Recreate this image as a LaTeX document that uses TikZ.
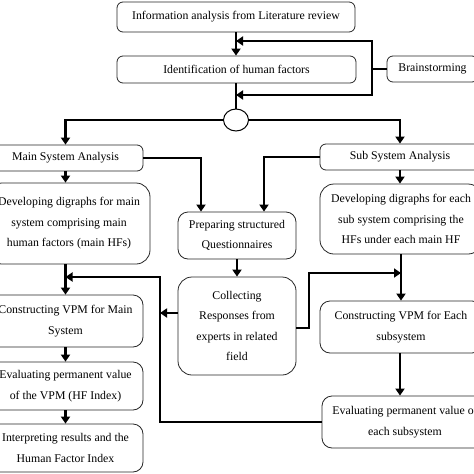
\documentclass[tikz,border=0pt]{standalone}
\usepackage{fontspec}
\setmainfont{Liberation Serif}
\usetikzlibrary{arrows.meta,shapes.geometric}
\begin{document}
\begin{tikzpicture}[x=1pt,y=-1pt,
  box/.style={draw=black!85,line width=0.8pt,rounded corners=6pt,align=center,inner sep=0pt,
    font=\fontsize{11.8}{20.5}\selectfont},
  bigbox/.style={box,rounded corners=14pt},
  conn/.style={line width=2.6pt},
  arr/.style={conn,-{Triangle[length=7pt,width=9pt]}}]
\useasboundingbox (0,0) rectangle (474,474);
\clip (0,0) rectangle (474,474);
\node[box,minimum width=238,minimum height=30] (top) at (236,17) {Information analysis from Literature review};
\node[box,minimum width=239,minimum height=27] (ident) at (236.5,69.5) {Identification of human factors};
\node[box,minimum width=91,minimum height=26] (brain) at (432.5,69) {Brainstorming};
\node[draw=black,line width=1pt,ellipse,minimum width=25,minimum height=22,inner sep=0pt] (circ) at (236,120) {};
\node[box,minimum width=155,minimum height=26] (main) at (65.5,158) {Main System Analysis};
\node[box,minimum width=160,minimum height=26] (sub) at (400,157) {Sub System Analysis};
\node[bigbox,minimum width=162,minimum height=81] (devmain) at (69,223.5) {Developing digraphs for main\\system comprising main\\human factors (main HFs)};
\node[bigbox,minimum width=162,minimum height=70] (deveach) at (401,219) {Developing digraphs for each\\sub system comprising the\\HFs under each main HF};
\node[box,rounded corners=10pt,minimum width=118,minimum height=47] (prep) at (237,235.5) {Preparing structured\\Questionnaires};
\node[bigbox,minimum width=118,minimum height=98] (coll) at (237,326) {Collecting\\Responses from\\experts in related\\field};
\node[box,rounded corners=10pt,minimum width=155,minimum height=52] (cvm) at (65.5,321) {Constructing VPM for Main\\System};
\node[box,rounded corners=10pt,minimum width=155,minimum height=48] (evm) at (65.5,386) {Evaluating permanent value\\of the VPM (HF Index)};
\node[box,rounded corners=10pt,minimum width=155,minimum height=48] (intp) at (65.5,448) {Interpreting results and the\\Human Factor Index};
\node[box,rounded corners=10pt,minimum width=162,minimum height=52] (cve) at (401,327) {Constructing VPM for Each\\subsystem};
\node[box,rounded corners=10pt,minimum width=166,minimum height=52] (eve) at (405,422) {Evaluating permanent value of\\each subsystem};
% coordinates
\coordinate (bj) at (372,69);
\coordinate (j1) at (236,41);
\coordinate (j2) at (236,95);
\coordinate (mq) at (201,158);
\coordinate (sq) at (264,157);
\coordinate (fb) at (160,422);
\coordinate (cr) at (309,328);
% connectors
\draw[arr] (top.south -| j1) -- (ident.north -| j1);
\draw[conn] (brain.west) -- (bj);
\draw[arr] (bj) |- (j1);
\draw[arr] (bj) |- (j2);
\draw[conn] (ident.south -| circ.north) -- (circ.north);
\draw[arr] (circ.west) -| (main.north);
\draw[arr] (circ.east) -| (sub.north);
\draw[arr] (main.east) -| (mq |- prep.north);
\draw[arr] (sub.west) -| (sq |- prep.north);
\draw[arr] (main.south) -- (main.south |- devmain.north);
\draw[arr] (sub.south) -- (sub.south |- deveach.north);
\draw[arr] (prep.south) -- (coll.north);
\draw[arr] (main.south |- devmain.south) -- (cvm.north);
\draw[arr] (cvm.south) -- (evm.north);
\draw[arr] (evm.south) -- (intp.north);
\draw[arr] (eve.west |- fb) -- (fb) -- (fb |- 0,277) -- (main.south |- 0,277);
\draw[arr] (coll.west |- 0,313) -- (fb |- 0,313);
\draw[arr] (coll.east |- cr) -- (cr) -- (cr |- 0,273) -- (deveach.south |- 0,273);
\draw[arr] (deveach.south) -- (cve.north);
\draw[arr] (cve.south -| 400,0) -- (eve.north -| 400,0);
\end{tikzpicture}
\end{document}
